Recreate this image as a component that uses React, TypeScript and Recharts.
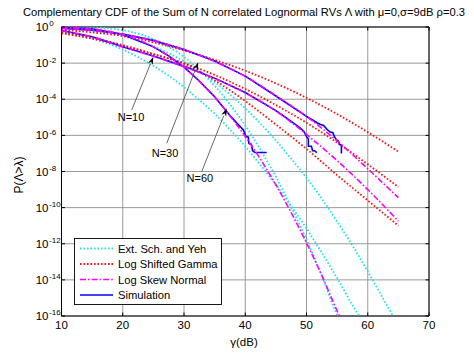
import React from 'react';
import {
  LineChart, Line, XAxis, YAxis, CartesianGrid, ReferenceArea, ReferenceLine, ReferenceDot,
} from 'recharts';

// ---------- data (x in dB, y given as log10 of probability) ----------
const X_TICKS = [10, 20, 30, 40, 50, 60, 70];
const Y_TICK_EXP = [0, -2, -4, -6, -8, -10, -12, -14, -16];

// Ext. Sch. and Yeh (cyan)
const extSchYeh1: [number, number][] = [
  [10, -0.01], [15, -0.03], [20, -0.18], [25, -0.67], [27.5, -1.1], [30, -1.66], [32.5, -2.38],
  [35, -3.25], [37.5, -4.28], [40, -5.45], [42.5, -6.8], [45, -8.29], [47.5, -9.97], [50, -11.77],
  [52.5, -13.76], [55, -15.92], [55.3, -16.1],
];
const extSchYeh2: [number, number][] = [
  [10, -0.25], [15, -0.63], [20, -1.25], [25, -2.15], [27.5, -2.7], [30, -3.33], [32.5, -4.04],
  [35, -4.8], [37.5, -5.68], [40, -6.61], [42.5, -7.65], [45, -8.74], [47.5, -9.91], [50, -11.15],
  [52.5, -12.5], [55, -13.9], [57.5, -15.4], [58.8, -16.1],
];
const extSchYeh3: [number, number][] = [
  [10, -0.05], [15, -0.19], [20, -0.51], [25, -1.07], [27.5, -1.45], [30, -1.91], [32.5, -2.44],
  [35, -3.05], [37.5, -3.73], [40, -4.5], [42.5, -5.35], [45, -6.28], [47.5, -7.29], [50, -8.35],
  [52.5, -9.5], [55, -10.77], [57.5, -12.1], [60, -13.53], [62.5, -15.03], [64.3, -16.1],
];

// Log Shifted Gamma (red)
const shiftedGammaA: [number, number][] = [
  [10, -0.15], [15, -0.3], [20, -0.5], [25, -0.85], [30, -1.3], [35, -1.82], [40, -2.42],
  [45, -3.12], [50, -3.92], [55, -4.82], [60, -5.82], [65, -6.9],
];
const shiftedGammaB: [number, number][] = [
  [10, -0.35], [15, -0.65], [20, -1.05], [25, -1.5], [30, -2.0], [35, -2.65], [40, -3.43],
  [45, -4.32], [50, -5.3], [55, -6.4], [60, -7.6], [65, -8.86],
];
const shiftedGammaC: [number, number][] = [
  [10, -0.3], [15, -0.6], [20, -1.0], [25, -1.5], [30, -2.05], [35, -2.95], [40, -4.1],
  [45, -5.4], [50, -6.75], [55, -8.2], [60, -9.6], [65, -11.0],
];

// Log Skew Normal (magenta)
const skewNormal1: [number, number][] = [
  [10, -0.02], [15, -0.1], [20, -0.42], [25, -1.1], [27.5, -1.61], [30, -2.24], [32.5, -3.01],
  [35, -3.88], [37.5, -4.92], [40, -6.06], [42.5, -7.33], [45, -8.74], [47.5, -10.28], [50, -11.95],
  [52.5, -13.76], [55, -15.72], [55.5, -16.1],
];
const skewNormal2: [number, number][] = [
  [10, -0.2], [15, -0.55], [20, -1.1], [25, -1.62], [30, -2.2], [35, -2.85], [40, -3.65],
  [45, -4.65], [50, -5.95], [55, -7.4], [60, -9.0], [65, -10.75],
];
const skewNormal3: [number, number][] = [
  [10, -0.07], [15, -0.19], [20, -0.4], [25, -0.75], [30, -1.25], [35, -1.9], [40, -2.73],
  [45, -3.8], [50, -4.95], [55, -6.3], [60, -7.85], [65, -9.45],
];

// Simulation (blue)
const simulation1: [number, number][] = [
  [10, -0.02], [15, -0.1], [20, -0.42], [25, -1.1], [27.5, -1.6], [30, -2.22], [32.5, -2.99],
  [35, -3.86], [37.5, -4.9], [38.7, -5.35], [39.7, -5.7], [40.1, -6.05], [40.5, -6.1], [40.6, -6.45],
  [41.0, -6.5], [41.2, -6.85], [41.6, -6.95], [43.5, -6.95],
];
const simulation2: [number, number][] = [
  [10, -0.19], [15, -0.54], [20, -1.09], [25, -1.6], [30, -2.18], [35, -2.83], [40, -3.63],
  [45, -4.63], [47, -5.1], [48, -5.35], [49, -5.6], [49.6, -5.8], [50.0, -6.07], [50.3, -6.2],
  [50.3, -6.6], [50.8, -6.6], [51.0, -6.85], [51.3, -6.85], [51.7, -6.95],
];
const simulation3: [number, number][] = [
  [10, -0.06], [15, -0.18], [20, -0.39], [25, -0.74], [30, -1.24], [35, -1.88], [40, -2.72],
  [45, -3.82], [50, -4.95], [51, -5.15], [51.7, -5.3], [52.3, -5.4], [52.8, -5.45], [53.3, -5.65],
  [53.8, -5.8], [54.3, -5.85], [54.6, -6.1], [54.9, -6.25], [55.2, -6.3], [55.4, -6.5],
  [55.7, -6.55], [55.7, -7.0],
];

// annotations: label text, label position, arrow start, arrow tip (x dB, log10 P)
const ANNOT_LABELS = ['N=10', 'N=30', 'N=60'];
const ANNOT_TEXT: [number, number][] = [[21.35, -4.98], [26.9, -6.99], [32.6, -8.36]];
const ANNOT_FROM: [number, number][] = [[21.46, -4.6], [27.18, -6.44], [32.89, -8.01]];
const ANNOT_TO: [number, number][] = [[24.99, -1.645], [32.33, -1.95], [36.97, -4.5]];

const LEGEND_LABELS = ['Ext. Sch. and Yeh', 'Log Shifted Gamma', 'Log Skew Normal', 'Simulation'];

// ---------- styles ----------
const FONT = '"Liberation Sans", Arial, Helvetica, sans-serif';
const CYAN = '#1ee3ea';
const RED = '#ff1010';
const MAGENTA = '#ff00ff';
const BLUE = '#0000f0';
const DOT = '1.6 1.9';
const DASHDOT = '6 2 1.6 2';

const PLOT = { left: 61.5, right: 429, top: 27, bottom: 316 };

const toRows = (pairs: [number, number][]) => pairs.map(([x, e]) => ({ x, p: Math.pow(10, e) }));

type SeriesDef = { data: [number, number][]; color: string; dash?: string; width: number; type: 'monotone' | 'linear' };

const SERIES: SeriesDef[] = [
  { data: extSchYeh1, color: CYAN, dash: DOT, width: 1.8, type: 'monotone' },
  { data: extSchYeh2, color: CYAN, dash: DOT, width: 1.8, type: 'monotone' },
  { data: extSchYeh3, color: CYAN, dash: DOT, width: 1.8, type: 'monotone' },
  { data: shiftedGammaA, color: RED, dash: DOT, width: 1.8, type: 'monotone' },
  { data: shiftedGammaB, color: RED, dash: DOT, width: 1.8, type: 'monotone' },
  { data: shiftedGammaC, color: RED, dash: DOT, width: 1.8, type: 'monotone' },
  { data: simulation1, color: BLUE, width: 1.6, type: 'linear' },
  { data: simulation2, color: BLUE, width: 1.6, type: 'linear' },
  { data: simulation3, color: BLUE, width: 1.6, type: 'linear' },
  { data: skewNormal1, color: MAGENTA, dash: DASHDOT, width: 1.6, type: 'monotone' },
  { data: skewNormal2, color: MAGENTA, dash: DASHDOT, width: 1.6, type: 'monotone' },
  { data: skewNormal3, color: MAGENTA, dash: DASHDOT, width: 1.6, type: 'monotone' },
];

const XTick = (props: any) => {
  const { x, payload } = props;
  return (
    <g>
      <line x1={x} x2={x} y1={PLOT.bottom} y2={PLOT.bottom - 3.5} stroke="#000" strokeWidth={1} />
      <line x1={x} x2={x} y1={PLOT.top} y2={PLOT.top + 3.5} stroke="#000" strokeWidth={1} />
      <text x={x} y={PLOT.bottom + 13} textAnchor="middle" fontSize={11.5} fontFamily={FONT} fill="#000">
        {payload.value}
      </text>
    </g>
  );
};

const YTick = (props: any) => {
  const { y, payload } = props;
  const exp = Math.round(Math.log10(payload.value));
  return (
    <g>
      <line x1={PLOT.left} x2={PLOT.left + 3.5} y1={y} y2={y} stroke="#000" strokeWidth={1} />
      <line x1={PLOT.right} x2={PLOT.right - 3.5} y1={y} y2={y} stroke="#000" strokeWidth={1} />
      <text x={48.5} y={y + 4} textAnchor="end" fontSize={11.5} fontFamily={FONT} fill="#000">10</text>
      <text x={49.2} y={y - 0.6} textAnchor="start" fontSize={8} fontFamily={FONT} fill="#000">{String(exp)}</text>
    </g>
  );
};

const Arrow = (props: any) => {
  const { x1, y1, x2, y2 } = props;
  const dx = x2 - x1;
  const dy = y2 - y1;
  const len = Math.hypot(dx, dy) || 1;
  const ux = dx / len;
  const uy = dy / len;
  const L = 8;
  const W = 2.6;
  const bx = x2 - ux * L;
  const by = y2 - uy * L;
  const nx = -uy;
  const ny = ux;
  const pts = `${x2},${y2} ${bx + nx * W},${by + ny * W} ${x2 - ux * (L - 2.5)},${y2 - uy * (L - 2.5)} ${bx - nx * W},${by - ny * W}`;
  return (
    <g>
      <line x1={x1} y1={y1} x2={bx} y2={by} stroke="#444" strokeWidth={0.8} />
      <polygon points={pts} fill="#000" />
    </g>
  );
};

const legendSamples = [
  { color: CYAN, dash: DOT, width: 1.8 },
  { color: RED, dash: DOT, width: 1.8 },
  { color: MAGENTA, dash: DASHDOT, width: 1.6 },
  { color: BLUE, dash: undefined, width: 1.6 },
];

export default function App() {
  return (
    <div style={{ position: 'absolute', left: 0, top: 0, width: 474, height: 355, background: '#fff' }}>
      <LineChart width={474} height={355} margin={{ top: PLOT.top, right: 474 - PLOT.right, bottom: 9, left: 0 }}>
        <CartesianGrid stroke="#8e8e8e" strokeWidth={0.9} />
        <XAxis
          type="number"
          dataKey="x"
          domain={[10, 70]}
          ticks={X_TICKS}
          interval={0}
          allowDataOverflow
          axisLine={false}
          tickLine={false}
          tickSize={0}
          tickMargin={0}
          height={30}
          tick={<XTick />}
        />
        <YAxis
          type="number"
          scale="log"
          domain={[1e-16, 1]}
          ticks={Y_TICK_EXP.map((e) => Math.pow(10, e))}
          interval={0}
          allowDataOverflow
          axisLine={false}
          tickLine={false}
          tickSize={0}
          tickMargin={0}
          width={PLOT.left}
          tick={<YTick />}
        />
        {SERIES.map((s, i) => (
          <Line
            key={i}
            data={toRows(s.data)}
            dataKey="p"
            type={s.type}
            stroke={s.color}
            strokeWidth={s.width}
            strokeDasharray={s.dash}
            dot={false}
            activeDot={false}
            isAnimationActive={false}
          />
        ))}
        <ReferenceArea x1={10} x2={70} y1={1e-16} y2={1} fill="none" stroke="#000" strokeWidth={1} ifOverflow="visible" />
        {ANNOT_LABELS.map((lab, i) => (
          <ReferenceLine
            key={'a' + i}
            segment={[
              { x: ANNOT_FROM[i][0], y: Math.pow(10, ANNOT_FROM[i][1]) },
              { x: ANNOT_TO[i][0], y: Math.pow(10, ANNOT_TO[i][1]) },
            ]}
            ifOverflow="visible"
            shape={(p: any) => <Arrow {...p} />}
          />
        ))}
        {ANNOT_LABELS.map((lab, i) => (
          <ReferenceDot
            key={'t' + i}
            x={ANNOT_TEXT[i][0]}
            y={Math.pow(10, ANNOT_TEXT[i][1])}
            r={0}
            ifOverflow="visible"
            shape={(p: any) => (
              <text x={p.cx} y={p.cy + 4} textAnchor="middle" fontSize={11} fontFamily={FONT} fill="#000">
                {lab}
              </text>
            )}
          />
        ))}
      </LineChart>
      <svg
        width={474}
        height={355}
        style={{ position: 'absolute', left: 0, top: 0, pointerEvents: 'none' }}
      >
        <text x={244} y={16.3} textAnchor="middle" fontSize={11.2} fontFamily={FONT} fill="#000">
          Complementary CDF of the Sum of N correlated Lognormal RVs Λ with μ=0,σ=9dB ρ=0.3
        </text>
        <text x={244} y={346} textAnchor="middle" fontSize={11.5} fontFamily={FONT} fill="#000">γ(dB)</text>
        <text
          x={0}
          y={0}
          transform="translate(22.5,175) rotate(-90)"
          textAnchor="middle"
          fontSize={12}
          fontFamily={FONT}
          fill="#000"
        >
          P(Λ&gt;λ)
        </text>
        <rect x={74.5} y={238.5} width={147} height={66} fill="#fff" stroke="#000" strokeWidth={0.9} />
        {LEGEND_LABELS.map((lab, i) => {
          const cy = 248.5 + i * 15.5;
          const s = legendSamples[i];
          return (
            <g key={lab}>
              <line x1={80} x2={113} y1={cy} y2={cy} stroke={s.color} strokeWidth={s.width} strokeDasharray={s.dash} />
              <text x={118} y={cy + 4} fontSize={11.2} fontFamily={FONT} fill="#000">{lab}</text>
            </g>
          );
        })}
      </svg>
    </div>
  );
}
